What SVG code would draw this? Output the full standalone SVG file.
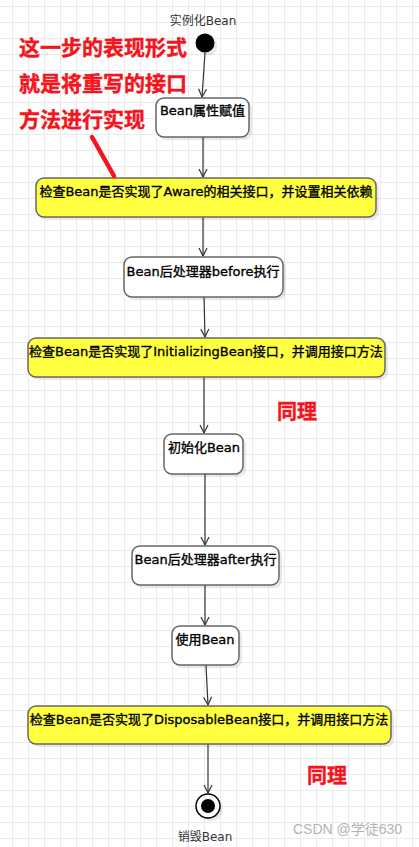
<svg xmlns="http://www.w3.org/2000/svg" width="419" height="847" viewBox="0 0 419 847">
<defs>
<pattern id="grid" x="12" y="6" width="16" height="16" patternUnits="userSpaceOnUse">
<path d="M0,0.5 H16 M0.5,0 V16" stroke="#ebebeb" stroke-width="1" fill="none"/>
</pattern>
<marker id="arr" markerUnits="userSpaceOnUse" markerWidth="12" markerHeight="12" refX="9" refY="5" orient="auto">
<path d="M1,1 L9,5 L1,9" fill="none" stroke="#333" stroke-width="1.2"/>
</marker>
<style>
.box{fill:#fff;stroke:#666;stroke-width:1.5}
.ybox{fill:#ffff40;stroke:#666;stroke-width:1.5}
.sh{fill:#000;fill-opacity:0.09}
.t{font-family:"DejaVu Sans","Noto Sans CJK SC",sans-serif;font-size:13px;fill:#000;stroke:#000;stroke-width:0.35;text-anchor:middle}
.lbl{font-family:"DejaVu Sans","Noto Sans CJK SC",sans-serif;font-size:12px;fill:#333;text-anchor:middle}
.red{font-family:"Noto Sans CJK SC",sans-serif;font-weight:bold;fill:#f5141e;stroke:#f5141e;stroke-width:0.4}
.c{stroke:#333;stroke-width:1.2;fill:none;marker-end:url(#arr)}
</style>
</defs>
<rect width="419" height="847" fill="#fff"/>
<rect width="419" height="847" fill="url(#grid)"/>

<g id="connectors">
<line class="c" x1="205" y1="53" x2="202" y2="97"/>
<line class="c" x1="203" y1="137" x2="203" y2="177"/>
<line class="c" x1="203" y1="217" x2="203" y2="256"/>
<line class="c" x1="204" y1="297" x2="205" y2="337"/>
<line class="c" x1="204" y1="377" x2="204" y2="433"/>
<line class="c" x1="205" y1="474" x2="205" y2="545"/>
<line class="c" x1="205" y1="585" x2="205" y2="625"/>
<line class="c" x1="206" y1="665" x2="208" y2="705"/>
<line class="c" x1="208" y1="744" x2="208" y2="793"/>
</g>

<g id="start">
<circle class="sh" cx="208" cy="46" r="9.5"/>
<circle cx="205" cy="43" r="9.5" fill="#000"/>
<text class="lbl" x="203" y="25">实例化Bean</text>
</g>

<g id="n1">
<rect class="sh" x="159" y="101" width="93" height="39" rx="8"/>
<rect class="box" x="156" y="98" width="93" height="39" rx="8"/>
<text class="t" x="202.5" y="115">Bean属性赋值</text>
</g>

<g id="n2">
<rect class="sh" x="39" y="181" width="340" height="39" rx="8"/>
<rect class="ybox" x="36" y="178" width="340" height="39" rx="8"/>
<text class="t" x="206" y="196">检查Bean是否实现了Aware的相关接口，并设置相关依赖</text>
</g>

<g id="n3">
<rect class="sh" x="127" y="260" width="159" height="40" rx="8"/>
<rect class="box" x="124" y="257" width="159" height="40" rx="8"/>
<text class="t" x="203" y="276">Bean后处理器before执行</text>
</g>

<g id="n4">
<rect class="sh" x="31" y="341" width="357" height="39" rx="8"/>
<rect class="ybox" x="28" y="338" width="357" height="39" rx="8"/>
<text class="t" x="206" y="356">检查Bean是否实现了InitializingBean接口，并调用接口方法</text>
</g>

<g id="n5">
<rect class="sh" x="167" y="437" width="79" height="40" rx="8"/>
<rect class="box" x="164" y="434" width="79" height="40" rx="8"/>
<text class="t" x="204" y="452">初始化Bean</text>
</g>

<g id="n6">
<rect class="sh" x="135" y="549" width="147" height="39" rx="8"/>
<rect class="box" x="132" y="546" width="147" height="39" rx="8"/>
<text class="t" x="205.5" y="564">Bean后处理器after执行</text>
</g>

<g id="n7">
<rect class="sh" x="175" y="629" width="67" height="39" rx="8"/>
<rect class="box" x="172" y="626" width="67" height="39" rx="8"/>
<text class="t" x="205" y="644">使用Bean</text>
</g>

<g id="n8">
<rect class="sh" x="31" y="709" width="363" height="38" rx="8"/>
<rect class="ybox" x="28" y="706" width="363" height="38" rx="8"/>
<text class="t" x="209" y="724">检查Bean是否实现了DisposableBean接口，并调用接口方法</text>
</g>

<g id="end">
<circle class="sh" cx="211" cy="809" r="12"/>
<circle cx="208" cy="806" r="12" fill="#fff" stroke="#000" stroke-width="1.5"/>
<circle cx="208" cy="806" r="7" fill="#000"/>
<text class="lbl" x="205" y="841">销毁Bean</text>
</g>

<g id="annotations">
<text class="red" x="19" y="55" font-size="21">这一步的表现形式</text>
<text class="red" x="19" y="91" font-size="21">就是将重写的接口</text>
<text class="red" x="19" y="127" font-size="21">方法进行实现</text>
<line x1="92" y1="137" x2="114" y2="176" stroke="#f5141e" stroke-width="4.5" stroke-linecap="round"/>
<text class="red" x="277" y="419" font-size="20">同理</text>
<text class="red" x="307" y="783" font-size="20">同理</text>
<text x="293" y="834" font-family="Liberation Sans, Arial, 'Noto Sans CJK SC', sans-serif" font-size="14" fill="#b4b4b4">CSDN @学徒630</text>
</g>
</svg>
